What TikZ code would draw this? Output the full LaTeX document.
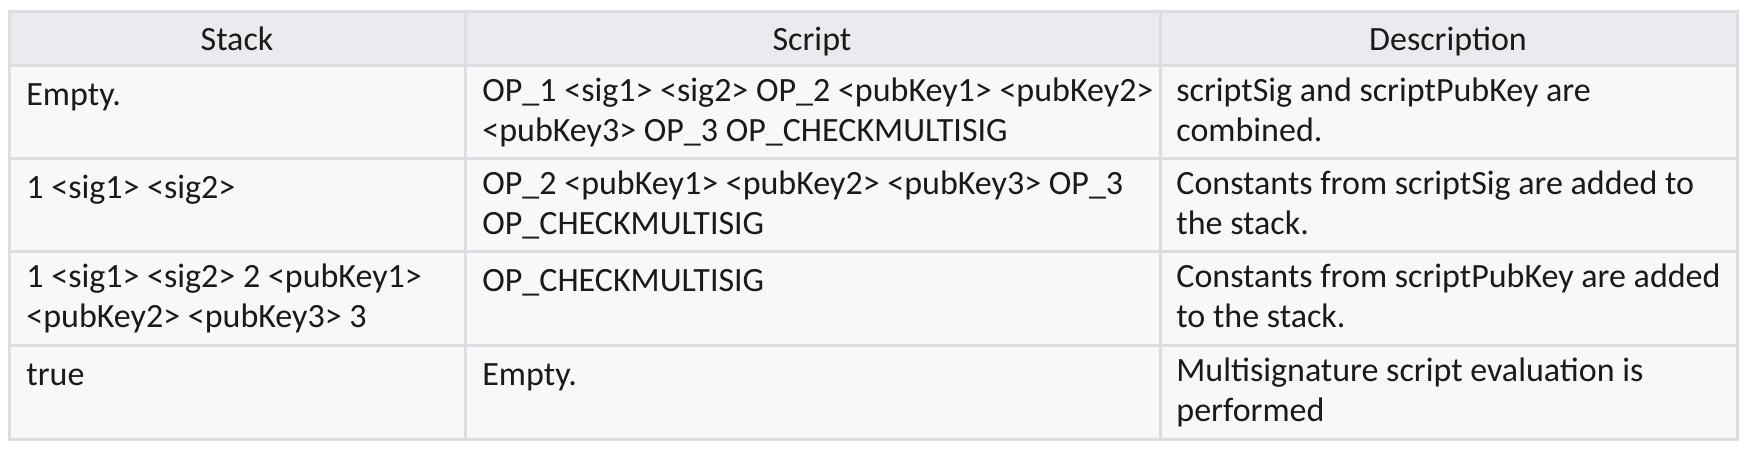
\documentclass[tikz,border=0pt]{standalone}
\usepackage{fontspec}
\setmainfont{Carlito}
\definecolor{headfill}{HTML}{E9EBEE}
\definecolor{rowfill}{HTML}{F7F8FA}
\definecolor{gridline}{HTML}{DCDDE0}
\definecolor{ink}{HTML}{1A1A1A}
\tikzset{
  cell/.style={anchor=north west, inner sep=0pt, align=left, text=ink,
    font=\fontsize{17pt}{20pt}\selectfont\strut},
  headcell/.style={anchor=base, inner sep=0pt, text=ink,
    font=\fontsize{17pt}{20pt}\selectfont},
}
\begin{document}
\begin{tikzpicture}[x=0.5pt, y=-0.5pt]

    \useasboundingbox (0,0) rectangle (1745,450);
    \fill [white] (0,0) rectangle (1745,450);

    % fills
    \fill [rowfill] (9,65) rectangle (1737,439);
    \fill [headfill] (9,11) rectangle (1737,65);

    % grid
    \draw [gridline, line width=1.5pt] (9,11) rectangle (1737,439);
    \foreach \y in {65,158,251,345}
        \draw [gridline, line width=1.5pt] (9,\y) -- (1737,\y);
    \foreach \x in {465,1160}
        \draw [gridline, line width=1.5pt] (\x,11) -- (\x,439);

    % header
    \node [headcell] (hstack) at (237,50) {Stack};
    \node [headcell] (hscript) at (812,50) {Script};
    \node [headcell] (hdesc) at (1448,50) {Description};

    % row 1
    \node [cell] (stackA) at (26,77) {Empty.};
    \node [cell] (scriptA) at (482,77) {OP\_1 <sig1> <sig2> OP\_2 <pubKey1> <pubKey2>\\<pubKey3> OP\_3 OP\_CHECKMULTISIG};
    \node [cell] (descA) at (1176,77) {scriptSig and scriptPubKey are\\combined.};

    % row 2
    \node [cell] (stackB) at (26,170) {1 <sig1> <sig2>};
    \node [cell] (scriptB) at (482,170) {OP\_2 <pubKey1> <pubKey2> <pubKey3> OP\_3\\OP\_CHECKMULTISIG};
    \node [cell] (descB) at (1176,170) {Constants from scriptSig are added to\\the stack.};

    % row 3
    \node [cell] (stackC) at (26,263) {1 <sig1> <sig2> 2 <pubKey1>\\<pubKey2> <pubKey3> 3};
    \node [cell] (scriptC) at (482,263) {OP\_CHECKMULTISIG};
    \node [cell] (descC) at (1176,263) {Constants from scriptPubKey are added\\to the stack.};

    % row 4
    \node [cell] (stackD) at (26,357) {true};
    \node [cell] (scriptD) at (482,357) {Empty.};
    \node [cell] (descD) at (1176,357) {Multisignature script evaluation is\\performed};

\end{tikzpicture}
\end{document}
